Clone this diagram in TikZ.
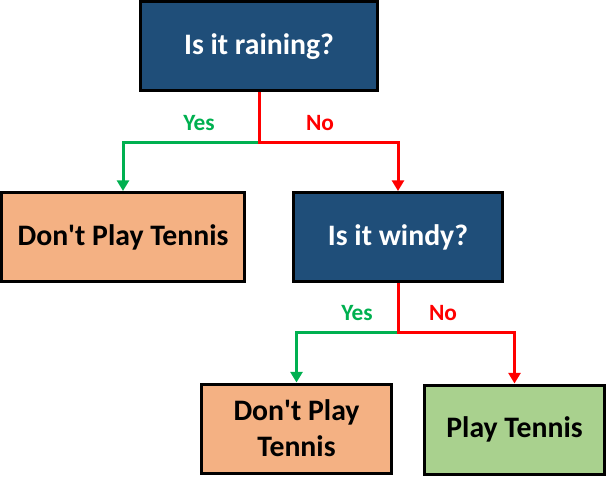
\documentclass[tikz,border=0pt]{standalone}
\usepackage{fontspec}
\setmainfont{Carlito}
\usetikzlibrary{arrows.meta}
\definecolor{askblue}{HTML}{1F4E79}
\definecolor{nopeorange}{HTML}{F4B183}
\definecolor{gogreen}{HTML}{A9D18E}
\definecolor{yesgreen}{HTML}{00B050}
\definecolor{nored}{HTML}{FF0000}

\begin{document}
\begin{tikzpicture}[x=0.75pt,y=-0.75pt,font=\bfseries\fontsize{22.3}{27}\selectfont,
  box/.style={draw=black,line width=2.25pt,minimum height=66.75pt,inner sep=0pt,align=center},
  ask/.style={box,fill=askblue,text=white},
  nope/.style={box,fill=nopeorange},
  go/.style={box,fill=gogreen},
  yesline/.style={draw=yesgreen,line width=2.25pt,-{Triangle[width=9pt,length=8pt]}},
  noline/.style={draw=nored,line width=2.25pt,-{Triangle[width=9pt,length=8pt]}},
  lbl/.style={font=\bfseries\fontsize{17.5}{20}\selectfont}]
 \useasboundingbox (0,0) rectangle (607,477);
 % boxes
 \node[ask,minimum width=177.75pt] (rain) at (259,46.5) {Is it raining?};
 \node[nope,minimum width=182.25pt] (stayA) at (123,237) {Don\textquotesingle t Play Tennis};
 \node[ask,minimum width=156.75pt] (windy) at (398,237) {Is it windy?};
 \node[nope,minimum width=142.5pt] (stayB) at (296.5,428.5) {Don\textquotesingle t Play\\Tennis};
 \node[go,minimum width=135pt] (play) at (514.5,429.5) {Play Tennis};
 % branches
 \coordinate (forkA) at (259,143);
 \coordinate (forkB) at (398,333);
 \draw[yesline] (forkA) -| (stayA.north);
 \draw[noline] (rain.south) -- (forkA) -| (windy.north);
 \draw[yesline] (forkB) -| (stayB.north);
 \draw[noline] (windy.south) -- (forkB) -| (play.north);
 \node[lbl,text=yesgreen] (yesA) at (199,123) {Yes};
 \node[lbl,text=nored] (noA) at (320,123) {No};
 \node[lbl,text=yesgreen] (yesB) at (357,313) {Yes};
 \node[lbl,text=nored] (noB) at (443,313) {No};
\end{tikzpicture}
\end{document}
